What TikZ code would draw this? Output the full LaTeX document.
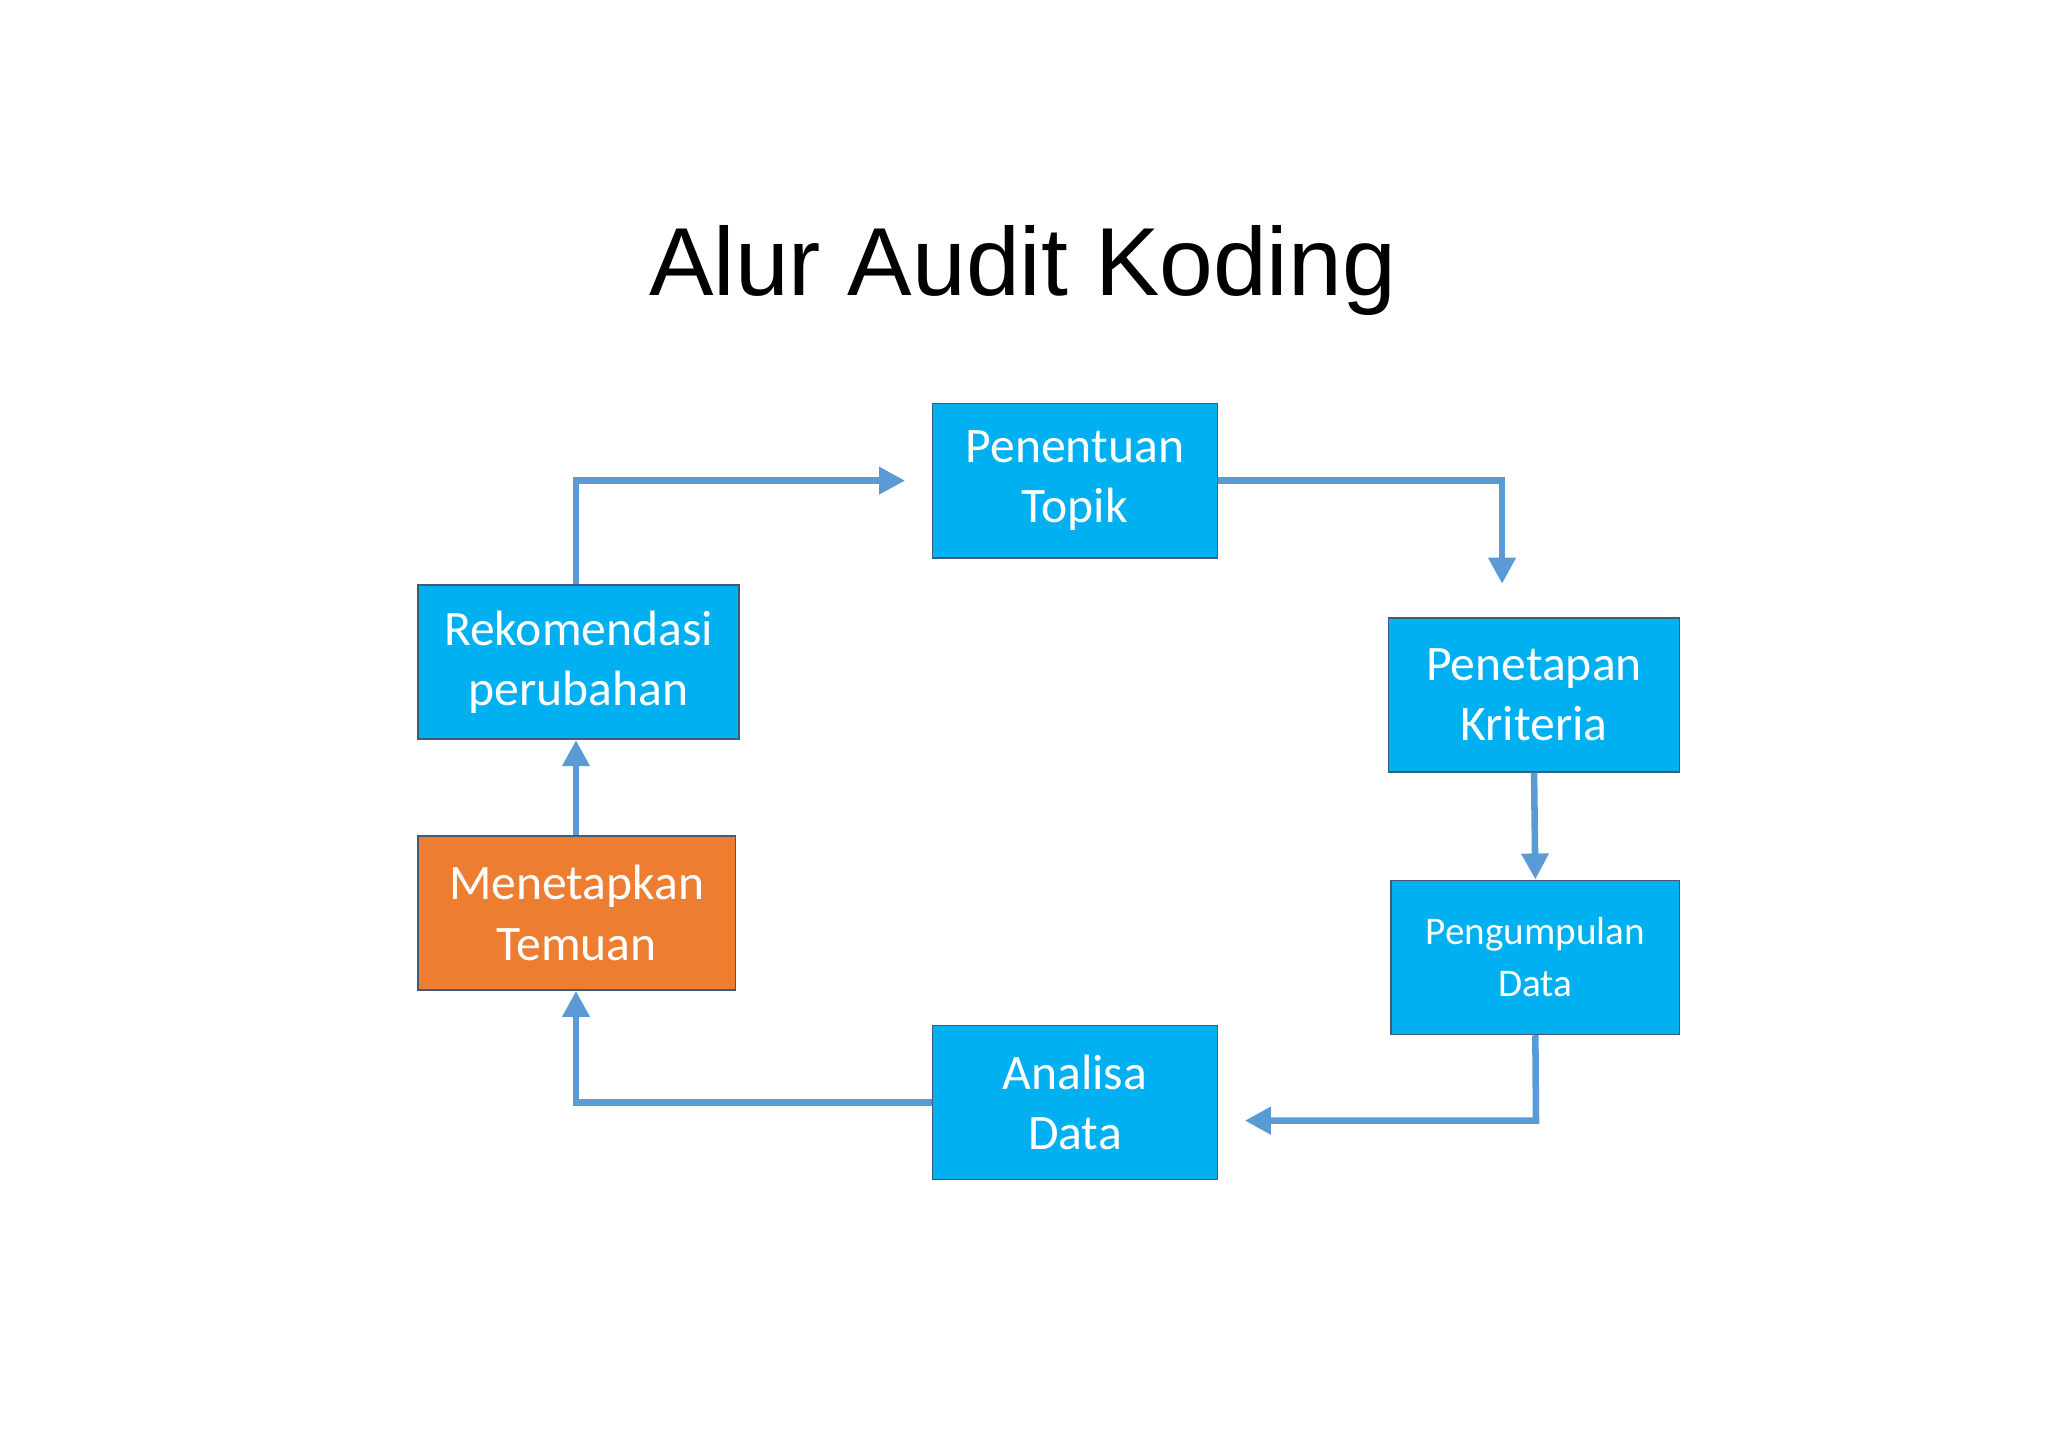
\documentclass[tikz,border=0pt]{standalone}
\usepackage{fontspec}
\setmainfont{Carlito}
\newfontfamily\titlefont{Liberation Sans}
\usetikzlibrary{arrows.meta}
\definecolor{boxblue}{RGB}{0,176,240}
\definecolor{boxorange}{RGB}{237,125,49}
\definecolor{arrblue}{RGB}{91,155,213}
\definecolor{edge}{RGB}{65,90,120}
\begin{document}
\begin{tikzpicture}[x=1pt,y=-1pt,
  box/.style={draw=edge,line width=1.2pt,fill=boxblue,text=white,minimum width=#1,minimum height=118pt,align=center,inner sep=0pt,font=\fontsize{38}{46}\selectfont},
  conn/.style={draw=arrblue,line width=5pt,-{Triangle[length=20pt,width=20pt]}}]
\useasboundingbox (0,0) rectangle (1568,1110);
\node[font=\titlefont\fontsize{74}{80}\selectfont] (title) at (783,207) {Alur Audit Koding};
\node[box=218pt] (top) at (823,368) {Penentuan\\Topik};
\node[box=223pt] (krit) at (1174.5,532) {Penetapan\\Kriteria};
\node[box=221pt,font=\fontsize{30}{40}\selectfont] (kump) at (1175.5,733) {Pengumpulan\\Data};
\node[box=218pt] (anal) at (823,844) {Analisa\\Data};
\node[box=243pt,fill=boxorange] (temu) at (441.5,699) {Menetapkan\\Temuan};
\node[box=246pt] (rek) at (443,507) {Rekomendasi\\perubahan};
\coordinate (a1) at (693,368);
\coordinate (a2) at (1150,447);
\coordinate (a3) at (953,858);
\draw[conn] (rek.north -| 441,0) -- (441,368) -- (a1);
\draw[conn] (top.east) -- (1150,368) -- (a2);
\draw[conn] (krit.south) -- (kump.north);
\draw[conn] (kump.south) -- (1176,858) -- (a3);
\draw[conn] (anal.west) -- (441,844) -- (temu.south -| 441,0);
\draw[conn] (temu.north -| 441,0) -- (rek.south -| 441,0);
\end{tikzpicture}
\end{document}
